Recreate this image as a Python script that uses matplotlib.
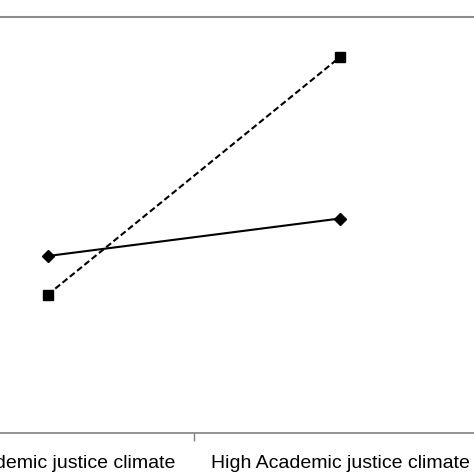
import matplotlib.pyplot as plt

# categories and series values
categories = ["Low Academic justice climate", "High Academic justice climate"]
solid_vals = [2.70, 3.06]
dashed_vals = [2.33, 4.61]

plt.rcParams['font.family'] = ['Liberation Sans', 'DejaVu Sans']

fig = plt.figure(figsize=(4.74, 4.74), dpi=100)
# axes wider than figure: the original picture is cropped
ax = fig.add_axes([-98 / 474, 41 / 474, 584 / 474, 416.5 / 474])

x = range(len(categories))
ax.plot(x, solid_vals, color='black', linewidth=1.5, marker='D', markersize=6)
ax.plot(x, dashed_vals, color='black', linewidth=1.5, linestyle=(0, (3, 1.5)),
        marker='s', markersize=7.5)

ax.set_xlim(-0.5, 1.5)
ax.set_ylim(1, 5)
ax.set_xticks([0.5])
ax.set_xticklabels([])
ax.set_xticks([0, 1], minor=True)
ax.set_xticklabels(categories, minor=True, fontsize=14)
ax.tick_params(axis='x', which='major', length=6, color='#808080', width=1)
ax.tick_params(axis='x', which='minor', length=0, pad=16)
ax.set_yticks([])
for s in ['left', 'right']:
    ax.spines[s].set_visible(False)
ax.spines['bottom'].set_color('#808080')
ax.spines['bottom'].set_linewidth(1.2)
ax.spines['top'].set_color('#8c8c8c')
ax.spines['top'].set_linewidth(1.5)

fig.savefig("out.png", dpi=100)
